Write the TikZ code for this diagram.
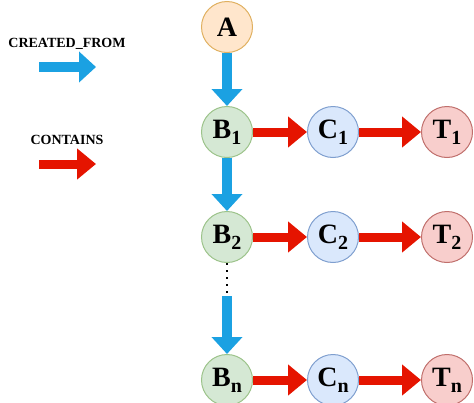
\documentclass[tikz,border=0pt]{standalone}
\usepackage{fontspec}
\setmainfont{Liberation Serif}
\usetikzlibrary{arrows.meta}

\definecolor{aFill}{HTML}{FFE6CC}
\definecolor{aLine}{HTML}{E0B060}
\definecolor{bFill}{HTML}{D5E8D4}
\definecolor{bLine}{HTML}{9CC38A}
\definecolor{cFill}{HTML}{DAE8FC}
\definecolor{cLine}{HTML}{7F9FCF}
\definecolor{tFill}{HTML}{F8CECC}
\definecolor{tLine}{HTML}{C06F6C}
\definecolor{fromBlue}{HTML}{1BA1E2}
\definecolor{hasRed}{HTML}{E51400}

\newcommand\idx[1]{\raisebox{-6pt}{\fontsize{20}{20}\selectfont #1}}

\begin{document}
\begin{tikzpicture}[x=1pt,y=-1pt,
  ball/.style={circle,draw,line width=1pt,minimum size=51pt,inner sep=0pt,
    font=\fontsize{28}{28}\selectfont\bfseries},
  key/.style={font=\fontsize{14}{14}\selectfont\bfseries,inner sep=0pt},
  createdfrom/.style={line width=10pt,draw=fromBlue,-{Triangle[width=30pt,length=17pt]}},
  contains/.style={line width=9pt,draw=hasRed,-{Triangle[width=30pt,length=19pt]}}]
\useasboundingbox (0,0) rectangle (474,402);

% legend
\node[key](kfrom) at (67,44) {CREATED\_FROM};
\coordinate (kf1) at (39,67);
\coordinate (kf2) at (96,67);
\node[key](khas) at (67,140) {CONTAINS};
\coordinate (kh1) at (39,164);
\coordinate (kh2) at (96,164);
\draw[createdfrom] (kf1) -- (kf2);
\draw[contains] (kh1) -- (kh2);

% nodes
\node[ball,fill=aFill,draw=aLine](A) at (227,27) {A};
\node[ball,fill=bFill,draw=bLine](B1) at (227,132) {B\idx{1}};
\node[ball,fill=cFill,draw=cLine](C1) at (333,132) {C\idx{1}};
\node[ball,fill=tFill,draw=tLine](T1) at (447,132) {T\idx{1}};
\node[ball,fill=bFill,draw=bLine](B2) at (227,237) {B\idx{2}};
\node[ball,fill=cFill,draw=cLine](C2) at (333,237) {C\idx{2}};
\node[ball,fill=tFill,draw=tLine](T2) at (447,237) {T\idx{2}};
\node[ball,fill=bFill,draw=bLine](Bn) at (227,380) {B\idx{n}};
\node[ball,fill=cFill,draw=cLine](Cn) at (333,380) {C\idx{n}};
\node[ball,fill=tFill,draw=tLine](Tn) at (447,380) {T\idx{n}};
\coordinate (gap) at (227,296);

% edges
\draw[createdfrom] (A) -- (B1);
\draw[createdfrom] (B1) -- (B2);
\draw[line width=1.5pt,dash pattern=on 1.5pt off 5.5pt] (B2) -- (gap);
\draw[createdfrom] (gap) -- (Bn);
\draw[contains] (B1) -- (C1);
\draw[contains] (C1) -- (T1);
\draw[contains] (B2) -- (C2);
\draw[contains] (C2) -- (T2);
\draw[contains] (Bn) -- (Cn);
\draw[contains] (Cn) -- (Tn);
\end{tikzpicture}
\end{document}
